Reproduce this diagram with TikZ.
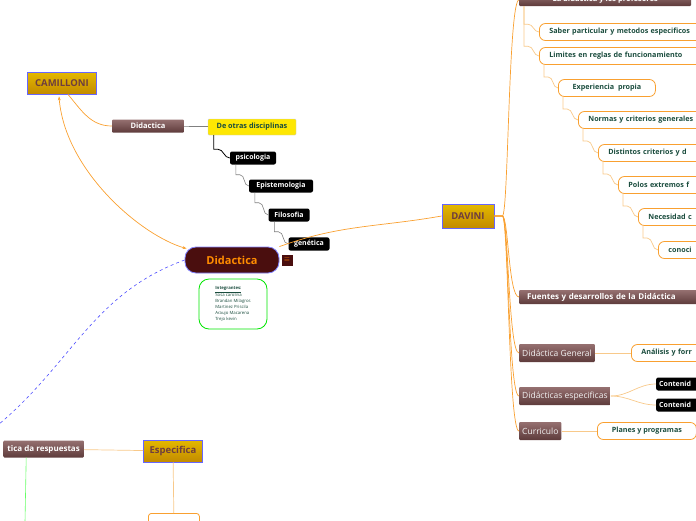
\documentclass[tikz,border=0pt]{standalone}
\usepackage{fontspec}
\setmainfont{Open Sans}
\usetikzlibrary{positioning, calc, arrows.meta}
\definecolor{gold}{HTML}{D89A00}
\definecolor{maroon}{HTML}{4A0E0E}
\definecolor{txtgreen}{HTML}{1B4D3E}
\definecolor{orangeln}{HTML}{F9A030}
\definecolor{paleor}{HTML}{F8C98A}
\definecolor{mauvetop}{HTML}{957070}
\definecolor{mauvebot}{HTML}{5E3B3B}
\begin{document}
\begin{tikzpicture}[x=1pt, y=-1pt,
        gbox/.style={rectangle, draw=blue!60, line width=0.8pt, top color=gold!70!yellow, bottom color=gold!90!black, text=maroon!80, font=\bfseries\fontsize{9.5}{10}\selectfont, inner sep=3pt, minimum height=22pt},
        bar/.style={rectangle, rounded corners=1pt, top color=mauvetop, bottom color=mauvebot, text=white, font=\bfseries\fontsize{7.5}{8}\selectfont, minimum height=13pt, inner sep=2pt},
        lbar/.style={rectangle, rounded corners=1pt, top color=mauvetop, bottom color=mauvebot, text=white!90!gray, font=\fontsize{8.5}{9}\selectfont, minimum height=18pt, inner sep=3pt},
        blk/.style={rectangle, rounded corners=2pt, fill=black, text=white, font=\bfseries\fontsize{7}{8}\selectfont, minimum height=13pt, inner sep=3pt},
        obox/.style={rectangle, rounded corners=6pt, draw=orangeln, line width=0.8pt, fill=white, text=txtgreen, font=\bfseries\fontsize{7.2}{8}\selectfont, minimum height=17pt, anchor=west, inner xsep=10pt},
        cut/.style={text width=#1, align=left},
        ln/.style={draw=orangeln, line width=0.7pt},
        pl/.style={draw=paleor, line width=0.7pt}
    ]
    \useasboundingbox (0,0) rectangle (696,520);

    % Center
    \node[rectangle, rounded corners=11pt, draw=blue!50, line width=0.8pt, fill=maroon, text=orange!90!yellow, font=\bfseries\fontsize{11}{12}\selectfont, minimum width=94pt, minimum height=26pt] (didactica) at (232,260) {Didactica};
    \node[rectangle, fill=maroon, text=orange, font=\bfseries\fontsize{7}{7}\selectfont, minimum size=11pt, inner sep=0pt] (menu) at (287,260) {$\equiv$};
    \node[rectangle, rounded corners=10pt, draw=green!90!black, line width=0.8pt, minimum width=68pt, minimum height=50pt, align=left, font=\fontsize{4.3}{6}\selectfont, text=txtgreen] (integ) at (233,304) {\underline{\textbf{Integrantes:}}\\Sosa carolina\\Brandan Milagros\\Martinez Priscila\\Araujo Macarena\\Trejo kevin};

    % Camilloni
    \node[gbox, minimum width=69pt] (camilloni) at (62,83) {CAMILLONI};
    \node[bar, minimum width=72pt] (didact2) at (148,126) {Didactica};
    \node[rectangle, rounded corners=1pt, fill=yellow!90!orange, draw=gray!40, text=txtgreen, font=\bfseries\fontsize{7.3}{8}\selectfont, minimum width=88pt, minimum height=16pt, inner sep=2pt] (otras) at (252,127) {De otras disciplinas};
    \node[blk, minimum width=46pt] (psico) at (253,158) {psicologia};
    \node[blk, minimum width=64pt] (episte) at (281,186) {Epistemologia};
    \node[blk, minimum width=41pt] (filo) at (289,215) {Filosofia};
    \node[blk, minimum width=41pt] (genet) at (309,244) {genética};

    \draw[ln, {Stealth[length=4pt]}-{Stealth[length=4pt]}] ($(camilloni.south)+(-3,2)$) .. controls (65,170) and (140,235) .. ($(didactica.north west)+(2,2)$);
    \draw[ln] ($(camilloni.south)+(6,0)$) to[out=-50, in=180] (didact2.west);
    \draw[gray, line width=0.7pt] (didact2) -- (otras);
    \draw[black, line width=0.8pt] ($(otras.south west)+(6,0)$) |- ++(4,14) to[out=0, in=180] (psico.west);
    \draw[gray, line width=0.6pt] ($(psico.south west)+(6,0)$) |- ++(4,10) to[out=0, in=180] (episte.west);
    \draw[gray, line width=0.6pt] ($(episte.south west)+(6,0)$) |- ++(4,10) to[out=0, in=180] (filo.west);
    \draw[gray, line width=0.6pt] ($(filo.south west)+(6,0)$) |- ++(4,10) to[out=0, in=180] (genet.west);

    % Davini
    \node[gbox, minimum width=52pt, minimum height=24pt] (davini) at (468,216) {DAVINI};
    \draw[ln] (didactica.north east) to[out=20, in=190] (davini.west);

    \node[bar, anchor=west, minimum width=172pt, minimum height=12pt] (profes) at (519,0) {La didáctica y los profesores};
    \node[bar, anchor=west, font=\bfseries\fontsize{8}{9}\selectfont, minimum height=14pt, inner xsep=8pt, cut=190pt] (fuentes) at (519,297) {Fuentes y desarrollos de la Didáctica};
    \node[lbar, anchor=west] (dgen) at (519,353) {Didáctica General};
    \node[lbar, anchor=west] (desp) at (519,396) {Didácticas especificas};
    \node[lbar, anchor=west] (curri) at (519,431) {Curriculo};

    \foreach \t in {profes, fuentes, dgen, desp, curri}
        \draw[ln] (davini.east) -- ++(8,0) .. controls ($(davini.east)+(14,0)$) and ($(davini.east |- \t.west)+(14,0)$) .. (\t.west);

    \node[obox, cut=160pt] (saber) at (539,32) {Saber particular y metodos especificos};
    \node[obox, cut=160pt] (limites) at (539,56) {Limites en reglas de funcionamiento};
    \node[obox, minimum width=97pt] (exper) at (558,88) {Experiencia\ \ propia};
    \node[obox, cut=140pt] (normas) at (578,120) {Normas y criterios generales};
    \node[obox, cut=120pt] (distin) at (598,153) {Distintos criterios y d};
    \node[obox, cut=100pt] (polos) at (618,185) {Polos extremos f};
    \node[obox, cut=80pt] (neces) at (638,217) {Necesidad c};
    \node[obox, cut=60pt] (conoc) at (658,250) {conoci};

    \draw[pl] ($(profes.south west)+(5,0)$) |- ++(4,18) to[out=0, in=180] (saber.west);
    \draw[pl] ($(profes.south west)+(5,0)$) |- ++(4,40) to[out=0, in=180] (limites.west);
    \draw[pl] ($(limites.south west)+(5,0)$) |- ++(4,12) to[out=0, in=180] (exper.west);
    \draw[pl] ($(exper.south west)+(5,0)$) |- ++(4,12) to[out=0, in=180] (normas.west);
    \draw[pl] ($(normas.south west)+(5,0)$) |- ++(4,12) to[out=0, in=180] (distin.west);
    \draw[pl] ($(distin.south west)+(5,0)$) |- ++(4,12) to[out=0, in=180] (polos.west);
    \draw[pl] ($(polos.south west)+(5,0)$) |- ++(4,12) to[out=0, in=180] (neces.west);
    \draw[pl] ($(neces.south west)+(5,0)$) |- ++(4,12) to[out=0, in=180] (conoc.west);

    \node[obox, cut=80pt] (analisis) at (631,353) {Análisis y forr};
    \node[blk, anchor=west, cut=50pt] (cont1) at (656,384) {Contenid};
    \node[blk, anchor=west, cut=50pt] (cont2) at (656,405) {Contenid};
    \node[obox, minimum width=99pt, inner xsep=0pt] (planes) at (597,431) {Planes y programas};
    \draw[pl] (dgen) -- (analisis);
    \draw[pl] (desp.east) to[out=0, in=180] (cont1.west);
    \draw[pl] (desp.east) to[out=0, in=180] (cont2.west);
    \draw[pl] (curri) -- (planes);

    % Especifica
    \node[gbox, minimum width=59pt] (especif) at (173,451) {Especifica};
    \node[bar, anchor=east, font=\bfseries\fontsize{8}{9}\selectfont, minimum height=17pt, inner xsep=4pt] (respu) at (84,449) {tica da respuestas};
    \node[rectangle, rounded corners=3pt, draw=orangeln, line width=0.8pt, minimum width=51pt, minimum height=14pt, anchor=north west] (bottom) at (148,513) {};
    \draw[pl] (respu) -- (especif);
    \draw[pl] (especif) -- (bottom);
    \draw[green!60, line width=0.6pt] ($(respu.south west)+(23,0)$) -- (25,522);
    \draw[blue!70, dashed, line width=0.6pt] (didactica.west) to[out=200, in=40] (-2,425);
\end{tikzpicture}
\end{document}
